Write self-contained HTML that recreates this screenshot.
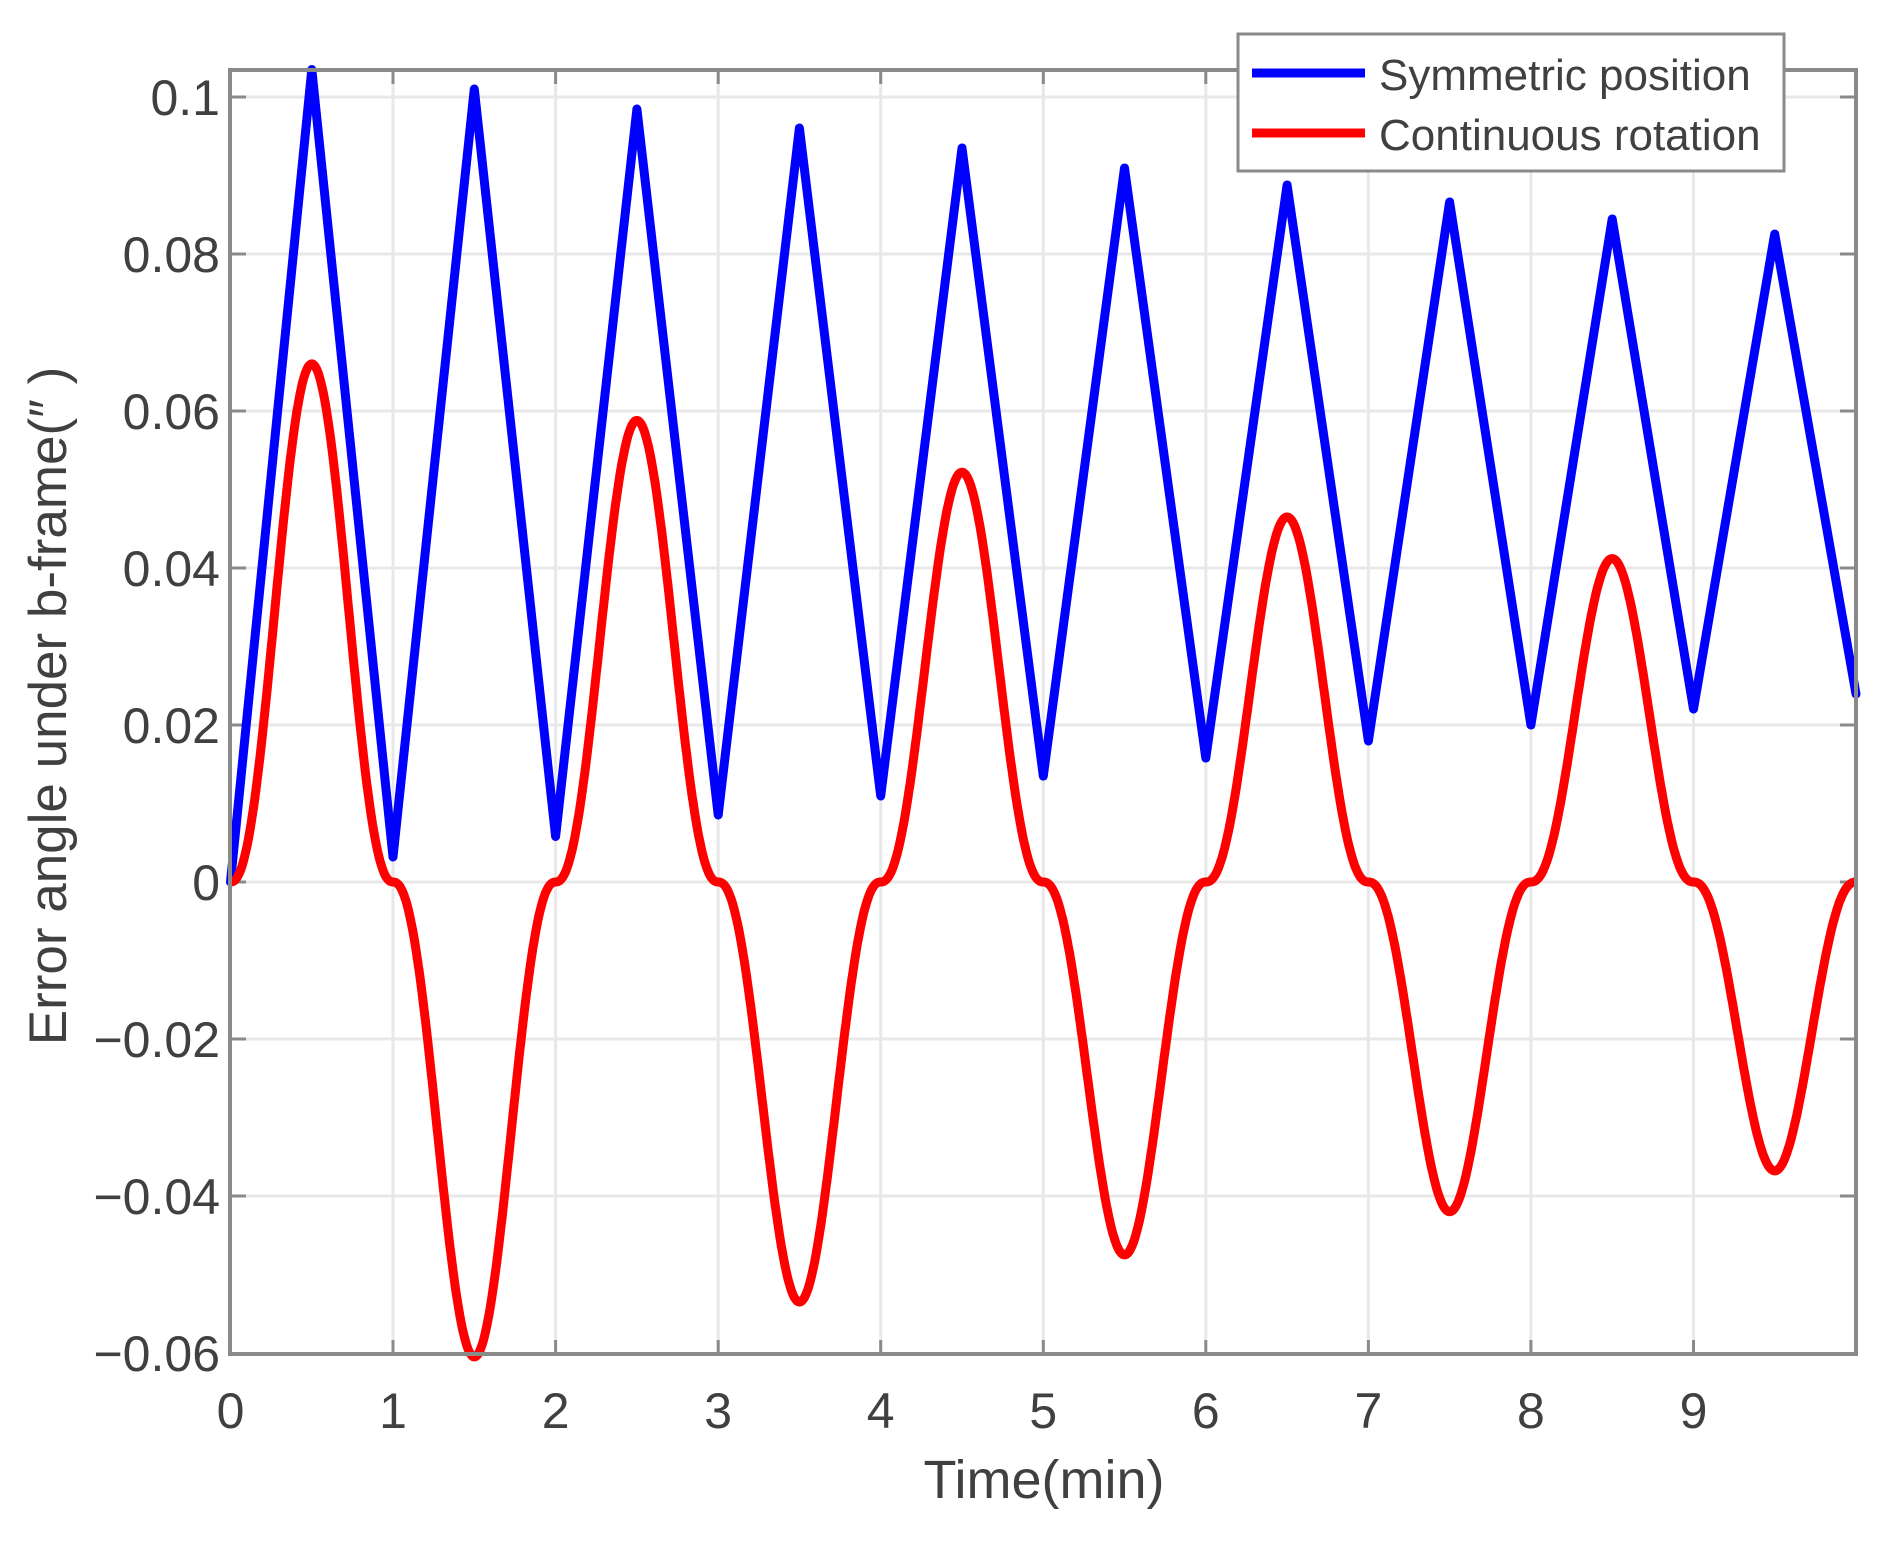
<!DOCTYPE html>
<html><head><meta charset="utf-8"><style>
html,body{margin:0;padding:0;background:#fff;}
svg{display:block;}
text{font-family:"Liberation Sans",Arial,sans-serif;fill:#404040;}
</style></head><body>
<svg id="s" width="1892" height="1544" viewBox="0 0 1892 1544" xmlns="http://www.w3.org/2000/svg">
<rect width="1892" height="1544" fill="#fff"/>
<g stroke="#e8e8e8" stroke-width="3">
<line x1="393" y1="70" x2="393" y2="1354"/><line x1="555.6" y1="70" x2="555.6" y2="1354"/>
<line x1="718.2" y1="70" x2="718.2" y2="1354"/><line x1="880.7" y1="70" x2="880.7" y2="1354"/>
<line x1="1043.3" y1="70" x2="1043.3" y2="1354"/><line x1="1205.8" y1="70" x2="1205.8" y2="1354"/>
<line x1="1368.4" y1="70" x2="1368.4" y2="1354"/><line x1="1530.9" y1="70" x2="1530.9" y2="1354"/>
<line x1="1693.5" y1="70" x2="1693.5" y2="1354"/>
<line x1="230" y1="97" x2="1856" y2="97"/><line x1="230" y1="254" x2="1856" y2="254"/>
<line x1="230" y1="411" x2="1856" y2="411"/><line x1="230" y1="568" x2="1856" y2="568"/>
<line x1="230" y1="725" x2="1856" y2="725"/><line x1="230" y1="882" x2="1856" y2="882"/>
<line x1="230" y1="1039" x2="1856" y2="1039"/><line x1="230" y1="1196" x2="1856" y2="1196"/>
</g>
<g stroke="#8a8a8a" stroke-width="3">
<path d="M393 1354v-14M555.6 1354v-14M718.2 1354v-14M880.7 1354v-14M1043.3 1354v-14M1205.8 1354v-14M1368.4 1354v-14M1530.9 1354v-14M1693.5 1354v-14"/>
<path d="M393 70v14M555.6 70v14M718.2 70v14M880.7 70v14M1043.3 70v14M1205.8 70v14M1368.4 70v14M1530.9 70v14M1693.5 70v14"/>
<path d="M230 97h16M230 254h16M230 411h16M230 568h16M230 725h16M230 882h16M230 1039h16M230 1196h16"/>
<path d="M1856 97h-16M1856 254h-16M1856 411h-16M1856 568h-16M1856 725h-16M1856 882h-16M1856 1039h-16M1856 1196h-16"/>
</g>
<polyline fill="none" stroke="#0000ff" stroke-width="9" stroke-linejoin="round" stroke-linecap="round"
points="230.5,882 311.8,69.5 393,857 474.3,89 555.6,836.5 636.9,109 718.2,815 799.4,128 880.7,796 962,148 1043.3,776 1124.5,168 1205.8,758 1287.1,185 1368.4,741 1449.6,202 1530.9,725 1612.2,219 1693.5,709 1774.7,234 1856,694"/>
<path id="red" fill="none" stroke="#ff0000" stroke-width="9" stroke-linejoin="round" d=""/>
<rect x="230" y="70" width="1626" height="1284" fill="none" stroke="#8a8a8a" stroke-width="4"/>
<g font-size="50" text-anchor="end">
<text x="220" y="115">0.1</text><text x="220" y="272">0.08</text><text x="220" y="429">0.06</text>
<text x="220" y="586">0.04</text><text x="220" y="743">0.02</text><text x="220" y="900">0</text>
<text x="220" y="1057">−0.02</text><text x="220" y="1214">−0.04</text><text x="220" y="1371">−0.06</text>
</g>
<g font-size="50" text-anchor="middle">
<text x="230.5" y="1428">0</text><text x="393" y="1428">1</text><text x="555.6" y="1428">2</text>
<text x="718.2" y="1428">3</text><text x="880.7" y="1428">4</text><text x="1043.3" y="1428">5</text>
<text x="1205.8" y="1428">6</text><text x="1368.4" y="1428">7</text><text x="1530.9" y="1428">8</text>
<text x="1693.5" y="1428">9</text>
</g>
<text x="1044" y="1498" font-size="54" text-anchor="middle">Time(min)</text>
<text transform="translate(66,706) rotate(-90)" font-size="53" text-anchor="middle">Error angle under b-frame(″ )</text>
<rect x="1238" y="34" width="546" height="137" fill="#fff" stroke="#8a8a8a" stroke-width="3"/>
<line x1="1252" y1="73" x2="1365" y2="73" stroke="#0000ff" stroke-width="9"/>
<line x1="1252" y1="133" x2="1365" y2="133" stroke="#ff0000" stroke-width="9"/>
<text x="1379" y="90" font-size="44">Symmetric position</text>
<text x="1379" y="150" font-size="44">Continuous rotation</text>
</svg>
<script>
(function(){
var amps=[0.066,-0.0605,0.0588,-0.0535,0.0522,-0.0475,0.0465,-0.042,0.0412,-0.0368];
var d="";
for(var i=0;i<=2000;i++){
var t=i/200; var k=Math.min(9,Math.floor(t));
var s=Math.abs(Math.sin(Math.PI*t));
var v=amps[k]*Math.pow(s,2.3);
var x=230.5+162.55*t, y=882-7850*v;
d+=(i?"L":"M")+x.toFixed(1)+" "+y.toFixed(1);
}
document.getElementById("red").setAttribute("d",d);
})();
</script>
</body></html>
